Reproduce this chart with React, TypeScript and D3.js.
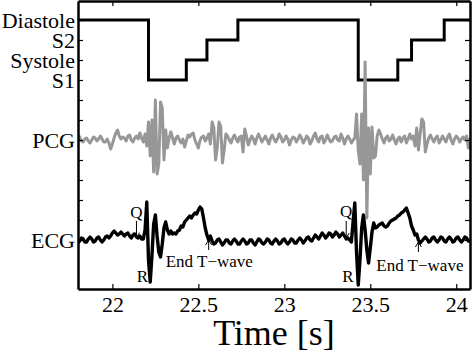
import React from "react";
import * as d3 from "d3";

// recording window and sampling step of the two signals (s)
const timeDomain = [21.8, 24.08];
const T0 = 21.8;
const DT = 0.01;

// heart-cycle state (step trace)
const stateTimes = [21.8, 22.21, 22.43, 22.55, 22.73, 23.43, 23.66, 23.74, 23.93, 24.08];
const stateSeq = ["Diastole", "S1", "Systole", "S2", "Diastole", "S1", "Systole", "S2", "Diastole", "Diastole"];

// y tick positions and their labels
const yTickValues = [3, 4, 5, 6, 7, 8, 9, 10, 11, 12, 13, 14];
const yTickNames = ["ECG", "", "", "", "", "PCG", "", "", "S1", "Systole", "S2", "Diastole"];

const xTickValues = [22, 22.5, 23, 23.5, 24];
const xTickNames = ["22", "22.5", "23", "23.5", "24"];

// phonocardiogram, one sample every DT, offset from its row
const pcgValues = [
  0.25, 0.15, -0.05, -0.1, 0.05, 0.1, -0.05, -0.15, 0.0, 0.15,
  0.1, -0.05, 0.05, 0.2, 0.05, -0.1, -0.1, 0.05, -0.15, -0.45,
  -0.2, 0.1, 0.35, 0.5, 0.2, 0.05, 0.15, 0.1, -0.05, 0.2,
  0.25, 0.0, -0.1, 0.1, 0.2, 0.05, 0.35, 0.1, -0.1,
  0.3, -0.3, 0.9, -0.8, 1.0, -1.6, 2.0, -1.7, -1.2, 1.9, 1.6, -1.0, 0.5, -0.4,
  0.1, 0.4, 0.1, -0.2, 0.1, 0.2, 0.0, -0.15, 0.05, -0.35,
  -0.05, 0.25, 0.15, 0.3, 0.35, 0.0, -0.2, -0.4, 0.0, 0.15,
  0.2, -0.05, 0.1, 0.3,
  -0.2, 0.9, 0.6, -1.0, -0.4, 0.9, 0.7, -1.15, -0.5, 0.3,
  0.2, 0.0, -0.15, 0.1, 0.25, 0.05, -0.1, 0.15, 0.2, -0.6,
  0.55, 0.2, -0.25, 0.0, 0.2, 0.05, -0.2, 0.1, 0.3, 0.1,
  -0.1, 0.05, 0.2, 0.0, -0.2, 0.1, 0.25, 0.05, -0.1, 0.05,
  0.3, 0.15, -0.1, 0.0, 0.2, 0.05, -0.25, 0.0, 0.15, 0.1,
  -0.1, 0.05, 0.25, 0.1, -0.15, 0.0, 0.2, 0.1, -0.2, -0.05,
  0.2, 0.35, 0.05, -0.1, 0.15, 0.2, -0.15, 0.0, 0.25, 0.05,
  -0.1, -0.05, 0.15, 0.2, 0.0, -0.05, 0.3, 0.1, -0.2, 0.05,
  0.2, 0.05, -0.15, 0.0, 0.1,
  1.3, -0.5, -1.2, 1.3, -2.0, 3.9, -3.9, 0.6, -1.7, 0.65, -0.9, -0.8, 0.2, 0.5,
  0.3, 0.05, -0.15, 0.1, 0.2, -0.05, 0.05, 0.25, 0.0, -0.2,
  0.05, 0.15, -0.1, 0.1, 0.2, -0.15, 0.05, 0.3, 0.05,
  0.2, -0.3, 0.6, -0.5, 0.3, 1.05, 0.9, -0.6, -0.2,
  0.1, 0.25, 0.05, -0.1, 0.1, 0.2, -0.15, 0.0, 0.2, 0.05,
  -0.1, 0.15, 0.3, 0.0, -0.2, 0.05, 0.2, 0.1, -0.1, 0.05,
  0.15, 0.0, 0.2, -0.4, 0.1,
];

// electrocardiogram, one sample every DT, offset from its row
const ecgValues = [
  -0.15, -0.05, 0.1, 0.05, -0.1, -0.1, 0.05, 0.15, 0.05, -0.1,
  -0.05, 0.1, 0.15, 0.0, -0.1, 0.0, 0.15, 0.2, 0.1, 0.2,
  0.35, 0.45, 0.35, 0.25, 0.3, 0.4, 0.3, 0.2, 0.3, 0.35,
  0.2, 0.1, 0.25, 0.3, 0.15, 0.1, 0.2, 0.05, 0.05,
  0.5, 1.9, -1.0, -2.1, -0.8, 0.8, 1.25, 0.2, -0.6, -0.85,
  -0.2, 0.6, 0.9, 0.5, 0.3, 0.45, 0.3, 0.35, 0.3, 0.45,
  0.5, 0.7, 0.65, 0.9, 1.0, 1.1, 1.2, 1.1, 1.25, 1.35,
  1.3, 1.5, 1.65, 1.55, 1.1, 0.6, 0.25, 0.0, 0.2,
  -0.05, -0.2, -0.15, 0.0, 0.05, -0.1, -0.25, -0.15, 0.0, 0.0,
  -0.15, -0.2, -0.05, 0.05, -0.05, -0.2, -0.2, -0.05, 0.05, -0.05,
  -0.2, -0.15, 0.0, 0.0, -0.15, -0.25, -0.1, 0.05, 0.0, -0.15,
  -0.2, -0.1, 0.05, 0.0, -0.15, -0.2, -0.05, 0.05, -0.05, -0.2,
  -0.15, 0.0, 0.05, -0.1, -0.2, -0.1, 0.05, 0.0, -0.15, -0.15,
  0.0, 0.1, 0.0, -0.15, -0.05, 0.1, 0.15, 0.0, -0.05, 0.1,
  0.25, 0.15, 0.05, 0.2, 0.35, 0.25, 0.1, 0.2, 0.35, 0.3,
  0.15, 0.25, 0.4, 0.3, 0.15, 0.25, 0.35, 0.2, 0.05, 0.1,
  0.0, -0.1, 0.9, 1.85, -0.6, -2.25, -1.0, 0.6, 1.25, 0.5,
  -0.5, -1.15, -0.4, 0.4, 0.85, 0.6, 0.65, 0.75, 0.8, 0.85,
  0.7, 0.65, 0.7, 0.85, 0.95, 1.0, 1.05, 1.1, 1.2, 1.25,
  1.35, 1.4, 1.5, 1.6, 1.35, 1.1, 0.7, 0.5, 0.25, 0.3,
  0.0, -0.15,
  -0.05, 0.05, 0.15, 0.05, -0.1, -0.05, 0.1, 0.15, 0.0, -0.1,
  0.0, 0.15, 0.1, -0.05, -0.1, 0.05, 0.15, 0.05, -0.1, -0.05,
  0.1, 0.15, 0.0, -0.1, 0.0, 0.15, 0.1, -0.05, -0.05,
];

// annotations (time, level on the y axis)
const noteText = ["Q", "R", "End T\u2212wave", "Q", "R", "End T\u2212wave"];
const noteTime = [22.14, 22.175, 22.31, 23.36, 23.37, 23.535];
const noteLevel = [4.1, 0.9, 1.65, 4.15, 0.9, 1.45];
const noteAnchor = ["middle", "middle", "start", "middle", "middle", "start"];

const arrowTime = [22.14, 22.56, 23.36, 23.78];
const arrowFrom = [3.95, 2.5, 3.95, 2.4];
const arrowTo = [3.12, 3.0, 3.1, 2.9];

const FONT = "'Liberation Serif', 'Times New Roman', Times, serif";

class App extends React.Component {
  svgRef: any;
  constructor(props: any) {
    super(props);
    this.svgRef = React.createRef();
    this.drawChart = this.drawChart.bind(this);
  }

  componentDidMount() {
    this.drawChart();
  }

  drawChart() {
    var width = 474,
      height = 351;
    var margin = { top: 1, right: 4, bottom: 62, left: 78 };

    var svg = d3.select(this.svgRef.current);
    svg.selectAll("*").remove();

    var x = d3
      .scaleLinear()
      .domain(timeDomain)
      .range([margin.left, width - margin.right]);
    var y = d3
      .scaleLinear()
      .domain([0.55, 14.95])
      .range([height - margin.bottom, margin.top]);

    svg
      .append("defs")
      .append("clipPath")
      .attr("id", "plotClip")
      .append("rect")
      .attr("x", margin.left)
      .attr("y", margin.top)
      .attr("width", width - margin.left - margin.right)
      .attr("height", height - margin.top - margin.bottom);

    var plot = svg.append("g").attr("clip-path", "url(#plotClip)");

    // state trace
    var levelOf: any = {};
    yTickNames.forEach(function (n, i) {
      if (n) levelOf[n] = yTickValues[i];
    });
    var stateLine = d3
      .line<number>()
      .x(function (d) { return x(d); })
      .y(function (d, i) { return y(levelOf[stateSeq[i]]); })
      .curve(d3.curveStepAfter);
    plot
      .append("path")
      .attr("d", stateLine(stateTimes) as string)
      .attr("fill", "none")
      .attr("stroke", "#000")
      .attr("stroke-width", 3);

    var signal = function (offset: number) {
      return d3
        .line<number>()
        .x(function (d, i) { return x(T0 + i * DT); })
        .y(function (d) { return y(offset + d); });
    };

    // PCG
    plot
      .append("path")
      .attr("d", signal(levelOf["PCG"])(pcgValues) as string)
      .attr("fill", "none")
      .attr("stroke", "#979797")
      .attr("stroke-width", 3)
      .attr("stroke-linejoin", "round");

    // ECG
    plot
      .append("path")
      .attr("d", signal(levelOf["ECG"])(ecgValues) as string)
      .attr("fill", "none")
      .attr("stroke", "#000")
      .attr("stroke-width", 3.4)
      .attr("stroke-linejoin", "round");

    // arrows
    arrowTime.forEach(function (t, i) {
      var ax = x(t),
        y0 = y(arrowFrom[i]),
        y1 = y(arrowTo[i]);
      var dir = y1 > y0 ? -1 : 1;
      svg
        .append("line")
        .attr("x1", ax)
        .attr("x2", ax)
        .attr("y1", y0)
        .attr("y2", y1)
        .attr("stroke", "#000")
        .attr("stroke-width", 1);
      svg
        .append("polyline")
        .attr("points", [[ax - 3, y1 + dir * 5], [ax, y1], [ax + 3, y1 + dir * 5]].join(" "))
        .attr("fill", "none")
        .attr("stroke", "#000")
        .attr("stroke-width", 1);
    });

    // notes
    noteText.forEach(function (txt, i) {
      svg
        .append("text")
        .attr("x", x(noteTime[i]))
        .attr("y", y(noteLevel[i]))
        .attr("text-anchor", noteAnchor[i])
        .style("font-family", FONT)
        .style("font-size", "17px")
        .text(txt);
    });

    // axes with inward ticks (box)
    var styleAxis = function (g: any) {
      g.select(".domain").attr("stroke-width", 2.5);
      g.selectAll(".tick line").attr("stroke-width", 1.2);
      g.selectAll("text")
        .style("font-family", FONT)
        .style("font-size", "22px")
        .attr("fill", "#000");
    };

    svg
      .append("g")
      .attr("transform", "translate(" + margin.left + ",0)")
      .call(
        d3
          .axisLeft(y)
          .tickValues(yTickValues)
          .tickSizeInner(-5)
          .tickSizeOuter(0)
          .tickPadding(3)
          .tickFormat(function (d, i) { return yTickNames[i]; })
      )
      .call(styleAxis);

    svg
      .append("g")
      .attr("transform", "translate(" + (width - margin.right) + ",0)")
      .call(
        d3
          .axisRight(y)
          .tickValues(yTickValues)
          .tickSizeInner(-5)
          .tickSizeOuter(0)
          .tickFormat(function () { return ""; })
      )
      .call(styleAxis);

    svg
      .append("g")
      .attr("transform", "translate(0," + margin.top + ")")
      .call(
        d3
          .axisTop(x)
          .tickValues(xTickValues)
          .tickSizeInner(-5)
          .tickSizeOuter(0)
          .tickFormat(function () { return ""; })
      )
      .call(styleAxis);

    svg
      .append("g")
      .attr("transform", "translate(0," + (height - margin.bottom) + ")")
      .call(
        d3
          .axisBottom(x)
          .tickValues(xTickValues)
          .tickSizeInner(-5)
          .tickSizeOuter(0)
          .tickPadding(7)
          .tickFormat(function (d, i) { return xTickNames[i]; })
      )
      .call(styleAxis);

    // x axis title
    svg
      .append("text")
      .attr("x", (margin.left + width - margin.right) / 2)
      .attr("y", height - 6)
      .attr("text-anchor", "middle")
      .style("font-family", FONT)
      .style("font-size", "36px")
      .text("Time [s]");
  }

  render() {
    return (
      <svg
        ref={this.svgRef}
        width={474}
        height={351}
        style={{ position: "absolute", left: 0, top: 0, background: "#fff" }}
      ></svg>
    );
  }
}

export default App;
